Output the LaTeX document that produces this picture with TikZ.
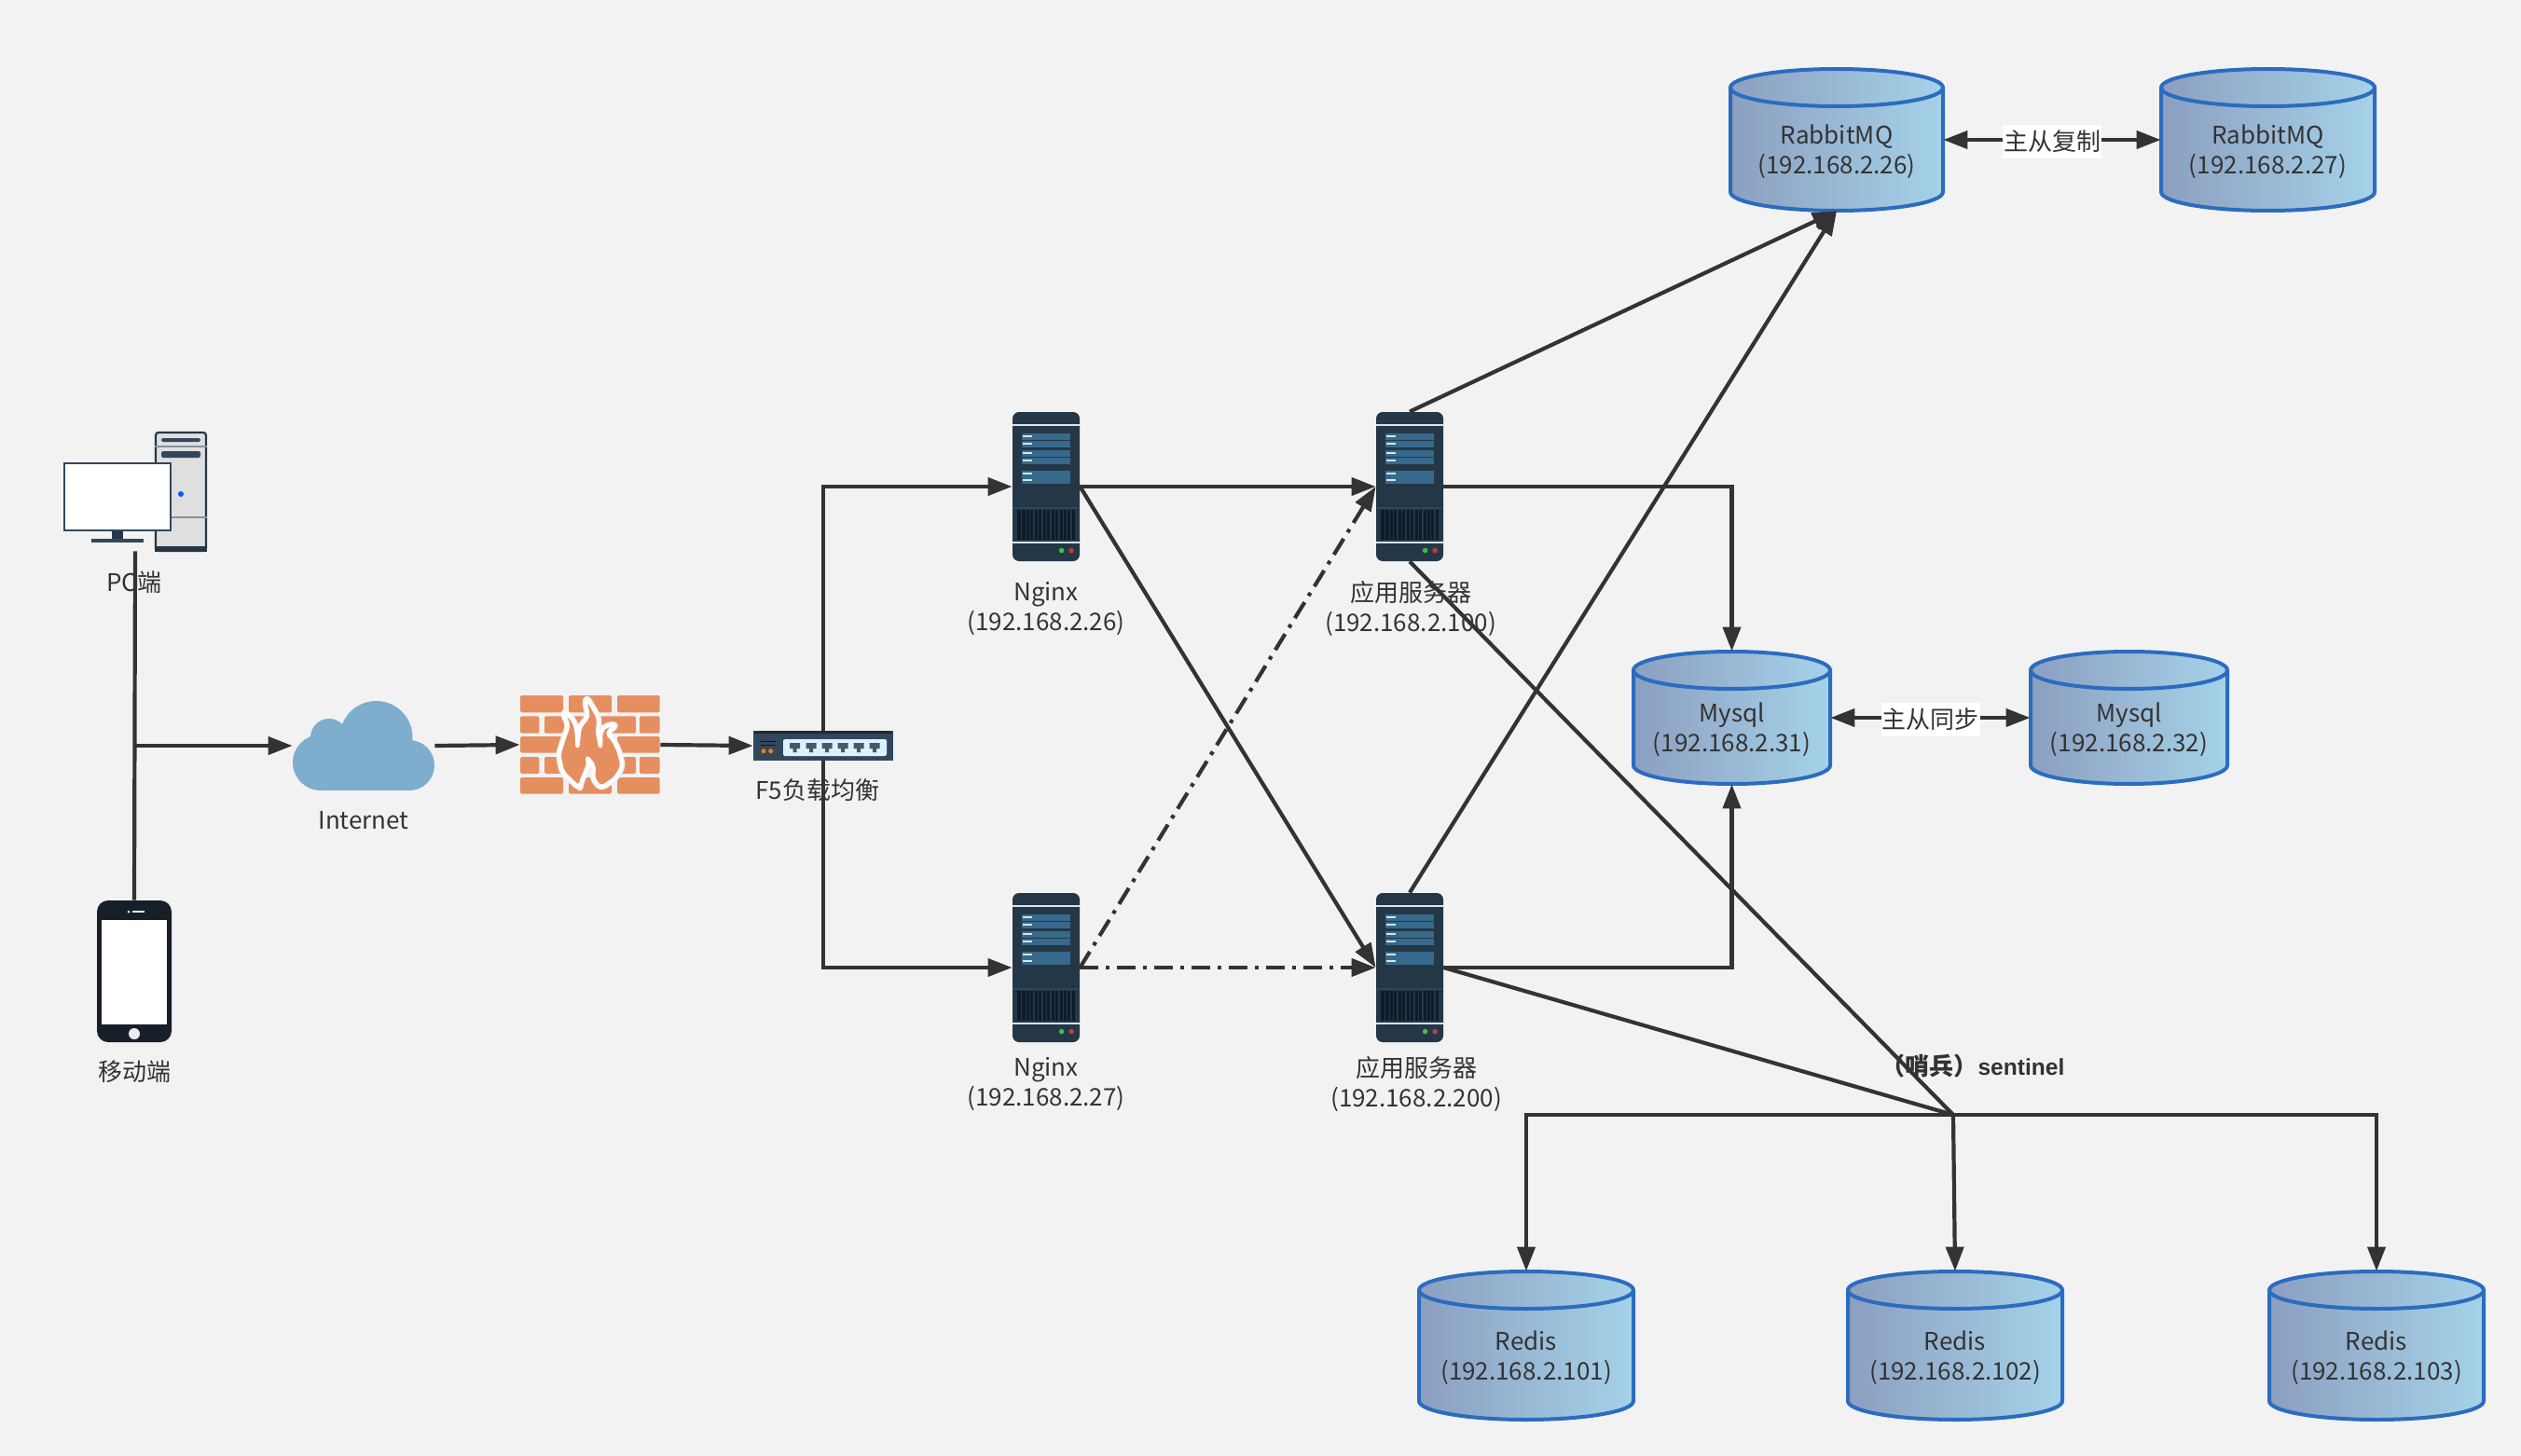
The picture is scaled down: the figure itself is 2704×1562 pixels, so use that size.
\documentclass[tikz,border=0pt]{standalone}
\usepackage{fontspec}
\setmainfont{Noto Sans CJK SC}
\newfontfamily\sentface{Liberation Sans}
\usetikzlibrary{arrows.meta}

\definecolor{bgcol}{HTML}{F2F2F2}
\definecolor{ink}{HTML}{333333}
\definecolor{srvbody}{HTML}{243746}
\definecolor{srvbar}{HTML}{36698C}
\definecolor{srvvent}{HTML}{0D1B2A}
\definecolor{srvline}{HTML}{D5E3EE}
\definecolor{brick}{HTML}{E58F61}
\definecolor{cloudcol}{HTML}{7FADCD}
\definecolor{swbody}{HTML}{33475B}
\definecolor{dbedge}{HTML}{2B6CBF}
\definecolor{dbleft}{HTML}{8C9FC0}
\definecolor{dbright}{HTML}{A5D2E9}

% name, centre x, top y, width, height, text
\newcommand{\dbcyl}[6]{
  \node (#1) [dbbox,minimum width=#4*.5pt,minimum height=#5*.5pt] at (#2,#3+#5/2) {};
  \path [dbshell] (#2-#4/2,#3+20)
    arc [start angle=180,end angle=0,x radius=#4*.25pt,y radius=10pt] -- ++(0,#5-40)
    arc [start angle=0,end angle=-180,x radius=#4*.25pt,y radius=10pt] -- cycle;
  \draw [dbedge,line width=2pt] (#2-#4/2,#3+20)
    arc [start angle=180,end angle=360,x radius=#4*.25pt,y radius=10pt];
  \node (#1txt) [lbl] at (#2,#3+#5/2+13) {#6};
}

\tikzset{
  srvface/.pic={
    \fill [srvline] (0,13) rectangle (72,15);
    \fill [srvline] (0,139) rectangle (72,141);
    \fill [srvvent] (5,105) rectangle (67,137);
    \fill [srvbody!70!srvbar] (0,102.5) rectangle (72,104);
    \foreach \i in {1,...,13}
      \fill [srvbody] (5+\i*4.45,105) rectangle ++(1.4,32);
    \foreach \i in {23,31,41,49,63,70} {
      \fill [srvbar] (10,\i) rectangle (62,\i+7);
      \fill [srvline] (11.5,\i+2.8) rectangle (21.5,\i+4.4);
    }
    \fill [green!45!gray] (53,149) circle [radius=2.8];
    \fill [red!55!gray] (63.5,149) circle [radius=2.8];
  }
}

\begin{document}
\begin{tikzpicture}
  [x=.5pt,y=-.5pt,
   lbl/.style={inner sep=0pt,align=center,text=ink,font=\fontsize{13}{16}\selectfont},
   srvbox/.style={rectangle,fill=srvbody,rounded corners=3.5pt,minimum width=36pt,minimum height=80pt,inner sep=0pt},
   dbbox/.style={rectangle,inner sep=0pt},
   dbshell/.style={draw=dbedge,line width=2pt,left color=dbleft,right color=dbright},
   wire/.style={ink,line width=2.1pt},
   link/.style={wire,-{Triangle[length=13pt,width=9.5pt]}},
   twoway/.style={wire,{Triangle[length=13pt,width=9.5pt]}-{Triangle[length=13pt,width=9.5pt]}},
   dotlink/.style={link,dash pattern=on 10pt off 4pt on 2pt off 4pt},
   gaplbl/.style={lbl,fill=white,minimum width=53pt,minimum height=18pt,yshift=-1pt}]

  \fill [bgcol] (0,0) rectangle (2704,1562);
  \useasboundingbox (0,0) rectangle (2704,1562);

  % clients
  \node (pc) [inner sep=0pt,minimum width=77pt,minimum height=64.5pt] at (145,526.5) {};
  \filldraw [fill=gray!25!white,draw=srvbody,line width=1.1pt,rounded corners=1.5pt] (167,464) rectangle (221,591);
  \fill [srvbody] (166,586) rectangle (222,592);
  \draw [swbody!60,line width=.6pt] (166,479) -- (222,479) (166,555) -- (222,555);
  \fill [swbody,rounded corners=.8pt] (173,470) rectangle (215,474);
  \fill [swbody,rounded corners=.8pt] (173,484) rectangle (215,491);
  \fill [blue!65!cyan] (194,530) circle [radius=3];
  \filldraw [fill=white,draw=swbody,line width=1pt] (69,497) rectangle (183,569);
  \fill [srvbody] (120,570) rectangle (132,578);
  \fill [swbody] (98,578) rectangle (154,582);
  \node (pclbl) [lbl] at (144,625) {PC端};

  \node (phone) [rectangle,fill=black!55!swbody,rounded corners=6pt,minimum width=40pt,minimum height=76pt,inner sep=0pt] at (144,1042) {};
  \fill [white] (109,987) rectangle (179,1099);
  \fill [white!85!gray] (144,1109) circle [radius=6];
  \fill [white!85!gray] (138,978) circle [radius=1.5];
  \fill [white!85!gray] (142,977.2) rectangle (155,978.6);
  \node (phonelbl) [lbl] at (144,1150) {移动端};

  % internet side
  \node (cloud) [inner sep=0pt,minimum width=76pt,minimum height=48pt] at (390,800) {};
  \fill [cloudcol] (403.5,791) circle [radius=39];
  \fill [cloudcol] (353,791) circle [radius=20];
  \fill [cloudcol] (344,818) circle [radius=30];
  \fill [cloudcol] (439,821) circle [radius=27];
  \fill [cloudcol] (344,795) rectangle (439,848);
  \node (cloudlbl) [lbl] at (390,880) {Internet};

  \node (wall) [inner sep=0pt,minimum width=75pt,minimum height=53pt] at (633,799) {};
  \begin{scope}[shift={(550,735)},x=.1667pt,y=-.1667pt]
    \foreach \ya/\yb in {33/88,165/218,297/350}
      \foreach \xa/\xb in {24/162,180/318,336/473}
        \fill [brick,rounded corners=.8pt] (\xa,\ya) rectangle (\xb,\yb);
    \foreach \ya/\yb in {100/155,231/285}
      \foreach \xa/\xb in {24/85,102/240,258/396,408/473}
        \fill [brick,rounded corners=.8pt] (\xa,\ya) rectangle (\xb,\yb);
    \def\flame{(160,85) -- (190,105) -- (205,140) -- (208,205) -- (215,135) -- (245,100) -- (235,70) -- (236,38)
      -- (262,80) -- (277,110) -- (272,150) -- (283,205) -- (283,150) -- (300,130) -- (335,127) -- (300,155)
      -- (320,170) -- (340,210) -- (353,260) -- (330,300) -- (282,332) -- (258,300) -- (262,260) -- (236,228)
      -- (245,250) -- (235,275) -- (218,315) -- (215,332) -- (160,280) -- (148,225) -- (165,170) -- (180,130) -- cycle}
    \draw [bgcol,line width=3.6pt,line join=round,rounded corners=2.5pt] \flame;
    \filldraw [fill=brick,draw=white,line width=2pt,line join=round,rounded corners=2.5pt] \flame;
  \end{scope}

  \node (lb) [rectangle,fill=swbody,inner sep=0pt,minimum width=75pt,minimum height=16pt] at (883,800) {};
  \fill [srvbody!80!black] (808,787) [rounded corners=2pt] -- (808,784) -- (958,784) [sharp corners] -- (958,787) -- cycle;
  \fill [white!85!cyan,rounded corners=1pt] (840,793) rectangle (951,811);
  \foreach \px in {852.7,870,887,904,921,938}
    \fill [swbody!70!gray] (\px-5.5,797) -- (\px+5.5,797) -- (\px+5.5,803) -- (\px+2,803) -- (\px+2,807) -- (\px-2,807) -- (\px-2,803) -- (\px-5.5,803) -- cycle;
  \fill [orange!70!brown] (819,805.7) circle [radius=2.5] (826.7,805.7) circle [radius=2.5];
  \draw [black!70!swbody,line width=.5pt] (816,795) -- (832,795) (816,799) -- (832,799);
  \node (lblbl) [lbl] at (877,848) {F5负载均衡};

  % servers
  \foreach \nm/\cx/\cy in {nginxa/1122/522,appa/1512/522,nginxb/1122/1038,appb/1512/1038} {
    \node (\nm) [srvbox] at (\cx,\cy) {};
    \pic at (\nm.north west) {srvface};
  }
  \node (nginxalbl) [lbl] at (1122,653) {Nginx\\(192.168.2.26)};
  \node (appalbl) [lbl] at (1513,653) {应用服务器\\(192.168.2.100)};
  \node (nginxblbl) [lbl] at (1122,1163) {Nginx\\(192.168.2.27)};
  \node (appblbl) [lbl] at (1519,1163) {应用服务器\\(192.168.2.200)};

  % stores
  \dbcyl{mqa}{1970}{74}{228}{152}{RabbitMQ\\(192.168.2.26)}
  \dbcyl{mqb}{2432.5}{74}{229}{152}{RabbitMQ\\(192.168.2.27)}
  \dbcyl{dba}{1857.5}{699}{211}{142}{Mysql\\(192.168.2.31)}
  \dbcyl{dbb}{2283.5}{699}{211}{142}{Mysql\\(192.168.2.32)}
  \dbcyl{rda}{1637}{1364}{230}{159}{Redis\\(192.168.2.101)}
  \dbcyl{rdb}{2097}{1364}{230}{159}{Redis\\(192.168.2.102)}
  \dbcyl{rdc}{2549}{1364}{230}{159}{Redis\\(192.168.2.103)}

  \coordinate (sent) at (2095,1196);
  \coordinate (joinpc) at (144,800);
  \node (sentlbl) [lbl,font=\fontsize{13}{16}\selectfont\bfseries] at (2116,1144) {（哨兵）{\sentface\fontsize{12.3}{16}\selectfont sentinel}};

  % connectors
  \draw [wire] (pc.south) -- (phone.north);
  \foreach \from/\to in {joinpc/cloud.west, cloud.east/wall.west, wall.east/lb.west}
    \draw [link] (\from) -- (\to);
  \draw [link] (lb.north) |- (nginxa.west);
  \draw [link] (lb.south) |- (nginxb.west);

  \foreach \from/\to in {nginxa.east/appa.west, nginxa.east/appb.west, appa.north/mqa.south, appb.north/mqa.south, sent/rdb.north}
    \draw [link] (\from) -- (\to);
  \foreach \from/\to in {nginxb.east/appa.west, nginxb.east/appb.west}
    \draw [dotlink] (\from) -- (\to);
  \draw [link] (appa.east) -| (dba.north);
  \draw [link] (appb.east) -| (dba.south);

  \draw [wire] (appa.south) -- (sent);
  \draw [wire] (appb.east) -- (sent);
  \draw [link] (sent) -| (rda.north);
  \draw [link] (sent) -| (rdc.north);

  \draw [twoway] (mqa.east) -- node [gaplbl] {主从复制} (mqb.west);
  \draw [twoway] (dba.east) -- node [gaplbl] {主从同步} (dbb.west);

\end{tikzpicture}
\end{document}
